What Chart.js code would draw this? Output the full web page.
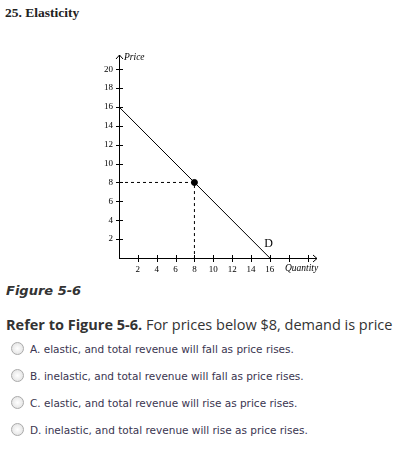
<!DOCTYPE html>
<html><head><meta charset="utf-8">
<script src="https://cdn.jsdelivr.net/npm/chart.js@4"></script>
<style>
body{margin:0;width:408px;height:470px;background:#fff;position:relative;overflow:hidden}
.t{position:absolute;white-space:nowrap}
#c{position:absolute;left:90px;top:50px}
.opt{position:absolute;left:11px;font:10.5px "DejaVu Sans",sans-serif;color:#3a3550;display:flex;align-items:center}
.opt i{display:inline-block;width:11px;height:11px;border-radius:50%;border:1px solid #aaa;background:radial-gradient(#fff,#ddd);margin-right:6px}
</style></head><body>
<div class="t" style="left:5px;top:5px;font:bold 13.5px 'Liberation Serif',serif;color:#222">25. Elasticity</div>
<canvas id="c" width="250" height="230" style="width:250px;height:230px"></canvas>
<div class="t" style="left:6px;top:283px;font:italic bold 13px 'DejaVu Sans',sans-serif;color:#333">Figure 5-6</div>
<div class="t" style="left:6px;top:315px;font:14.5px 'Open Sans',sans-serif;color:#333"><b>Refer to Figure 5-6.</b> For prices below $8, demand is price</div>
<div class="opt" style="top:342px"><i></i>A. elastic, and total revenue will fall as price rises.</div>
<div class="opt" style="top:369px"><i></i>B. inelastic, and total revenue will fall as price rises.</div>
<div class="opt" style="top:396px"><i></i>C. elastic, and total revenue will rise as price rises.</div>
<div class="opt" style="top:423px"><i></i>D. inelastic, and total revenue will rise as price rises.</div>
<script>
const demandX = [0, 16];
const demandY = [16, 0];
const pointX = [8];
const pointY = [8];
const guideX = [0, 8, 8];
const guideY = [8, 8, 0];
const xTicks = [2, 4, 6, 8, 10, 12, 14, 16, 18, 20];
const xTickLabels = ["2", "4", "6", "8", "10", "12", "14", "16"];
const yTicks = [2, 4, 6, 8, 10, 12, 14, 16, 18, 20];

const zip = (a, b) => a.map((v, i) => ({ x: v, y: b[i] }));

// Axes, ticks and labels drawn by hand from the scales
const axesPlugin = {
    id: "axes",
    afterDatasetsDraw(chart) {
        const { ctx, scales: { x, y } } = chart;
        const x0 = x.getPixelForValue(0), y0 = y.getPixelForValue(0);
        const xr = x.getPixelForValue(21), yt = y.getPixelForValue(21.5);
        ctx.save();
        ctx.strokeStyle = "#000"; ctx.lineWidth = 1;
        ctx.beginPath();
        ctx.moveTo(x0 + 0.5, y0); ctx.lineTo(x0 + 0.5, yt);
        ctx.moveTo(x0, y0 + 0.5); ctx.lineTo(xr, y0 + 0.5);
        // arrows
        ctx.moveTo(x0 - 3, yt + 4); ctx.lineTo(x0 + 0.5, yt); ctx.lineTo(x0 + 4, yt + 4);
        ctx.moveTo(xr - 4, y0 - 3); ctx.lineTo(xr, y0 + 0.5); ctx.lineTo(xr - 4, y0 + 4);
        xTicks.forEach(v => { const p = Math.round(x.getPixelForValue(v)) + 0.5; ctx.moveTo(p, y0 - 3); ctx.lineTo(p, y0 + 4); });
        yTicks.forEach(v => { const p = Math.round(y.getPixelForValue(v)) + 0.5; ctx.moveTo(x0 - 3, p); ctx.lineTo(x0 + 4, p); });
        ctx.stroke();
        ctx.fillStyle = "#000";
        ctx.font = "9px 'Liberation Serif', serif";
        ctx.textAlign = "center"; ctx.textBaseline = "top";
        xTickLabels.forEach((l, i) => ctx.fillText(l, x.getPixelForValue(xTicks[i]), y0 + 7));
        ctx.textAlign = "right"; ctx.textBaseline = "middle";
        yTicks.forEach(v => ctx.fillText(String(v), x0 - 6, y.getPixelForValue(v)));
        ctx.font = "italic 9.5px 'Liberation Serif', serif";
        ctx.textAlign = "left";
        ctx.fillText("Price", x0 + 5, yt + 2);
        ctx.textBaseline = "top";
        ctx.fillText("Quantity", x.getPixelForValue(17.6), y0 + 6);
        ctx.font = "12px 'Liberation Serif', serif";
        ctx.textBaseline = "middle";
        ctx.fillText("D", x.getPixelForValue(15.4), y.getPixelForValue(1.5));
        ctx.restore();
    }
};

new Chart(document.getElementById("c"), {
    type: "scatter",
    data: {
        datasets: [
            { data: zip(demandX, demandY), showLine: true, borderColor: "#000", borderWidth: 1, pointRadius: 0 },
            { data: zip(guideX, guideY), showLine: true, borderColor: "#000", borderWidth: 1, borderDash: [3, 3], pointRadius: 0 },
            { data: zip(pointX, pointY), pointRadius: 3, backgroundColor: "#000", borderColor: "#000" }
        ]
    },
    options: {
        responsive: false, animation: false,
        layout: { padding: { left: 29, right: 23, top: 4, bottom: 22 } },
        plugins: { legend: { display: false }, tooltip: { enabled: false } },
        scales: {
            x: { type: "linear", min: 0, max: 21, display: false },
            y: { type: "linear", min: 0, max: 21.5, display: false }
        }
    },
    plugins: [axesPlugin]
});
</script>
</body></html>
